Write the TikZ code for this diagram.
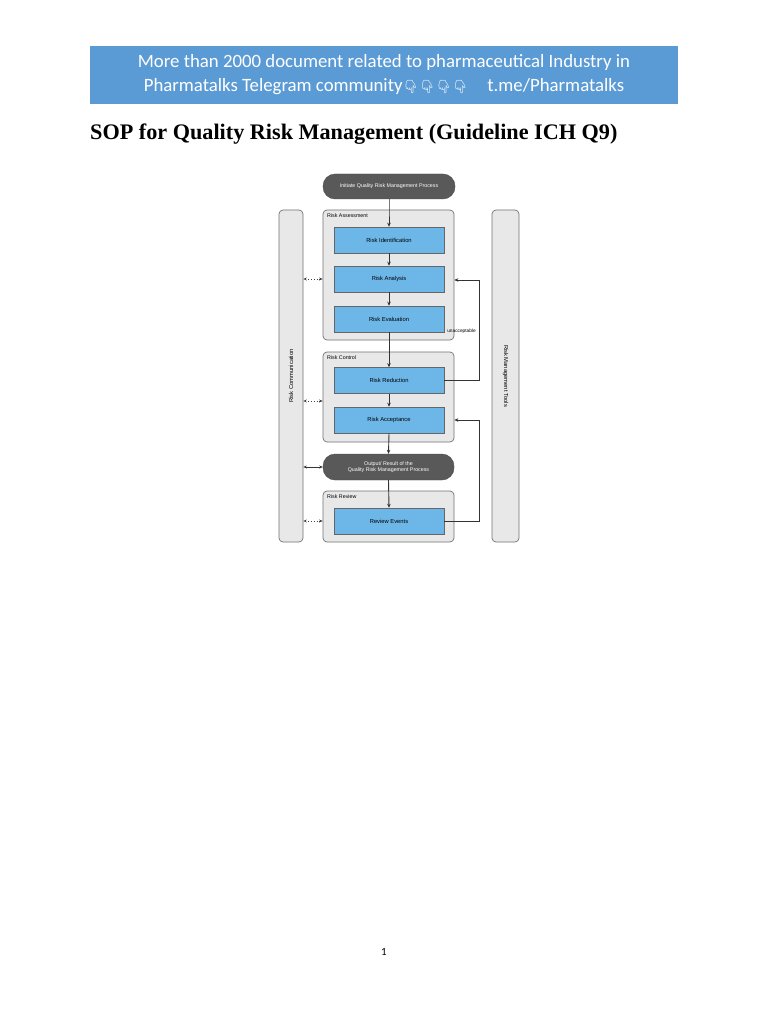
\documentclass[tikz,border=0pt]{standalone}
\usepackage{fontspec}
\setmainfont{Liberation Serif}
\newfontfamily\calfont{Carlito}
\newfontfamily\dsans{Liberation Sans}
\newfontfamily\emo{Noto Emoji}
\usetikzlibrary{arrows.meta}
\definecolor{banner}{HTML}{5B9BD5}
\definecolor{pill}{HTML}{595959}
\definecolor{gbox}{HTML}{E8E8E8}
\definecolor{bbox}{HTML}{6DB6E8}
\begin{document}
\begin{tikzpicture}[x=1pt,y=-1pt,
  every node/.style={inner sep=0pt},
  pillst/.style={draw=black!70,fill=pill,rounded corners=12pt,text=white,font=\dsans\fontsize{5.3}{6.5}\selectfont,align=center},
  grp/.style={draw=black!55,fill=gbox,rounded corners=4pt,line width=0.7pt},
  blue/.style={draw=black!60,fill=bbox,font=\dsans\fontsize{5.8}{6}\selectfont,line width=0.5pt},
  lab/.style={font=\dsans\fontsize{5.3}{6}\selectfont,anchor=north west},
  arr/.style={-{Stealth[length=4pt,width=3.5pt]},black!80,line width=0.9pt},
  dots/.style={{Stealth[length=3.5pt,width=3pt]}-{Stealth[length=3.5pt,width=3pt]},black!75,dotted,line width=0.8pt}]
\useasboundingbox (0,0) rectangle (768,1024);
\fill[white] (0,0) rectangle (768,1024);
% banner
\node[fill=banner,minimum width=588pt,minimum height=58pt,text=white,align=center,font=\calfont\fontsize{18.8}{24}\selectfont] (ban) at (384,75)
 {More than 2000 document related to pharmaceutical Industry in\\ Pharmatalks Telegram community{\emo\fontsize{13}{13}\selectfont 👇👇👇👇}\quad t.me/Pharmatalks};
\node[anchor=west,font=\bfseries\fontsize{22.2}{26}\selectfont] (title) at (90,134) {SOP for Quality Risk Management (Guideline ICH Q9)};
% bars
\node[grp,minimum width=24pt,minimum height=332pt] (lbar) at (291,376) {};
\node[rotate=90,font=\dsans\fontsize{5.8}{6}\selectfont] (lbt) at (291,376) {Risk Communication};
\node[grp,minimum width=27pt,minimum height=332pt] (rbar) at (505.5,376) {};
\node[rotate=-90,font=\dsans\fontsize{5.8}{6}\selectfont] (rbt) at (505.5,376) {Risk Management Tools};
% groups
\node[grp,minimum width=131pt,minimum height=130pt] (ra) at (388.5,275) {};
\node[lab] (ral) at (327,213) {Risk Assessment};
\node[grp,minimum width=131pt,minimum height=90pt] (rc) at (388.5,397) {};
\node[lab] (rcl) at (327,355) {Risk Control};
\node[grp,minimum width=131pt,minimum height=51pt] (rr) at (388.5,516.5) {};
\node[lab] (rrl) at (327,494) {Risk Review};
% pills
\node[pillst,minimum width=132pt,minimum height=25pt] (init) at (389,186.5) {Initiate Quality Risk Management Process};
\node[pillst,minimum width=131pt,minimum height=26pt] (out) at (388.5,467) {Output/ Result of the\\Quality Risk Management Process};
% blue boxes
\foreach \n/\y/\t in {rid/240/Risk Identification, ran/279/Risk Analysis, rev/319/Risk Evaluation, rred/380.5/Risk Reduction, racc/420/Risk Acceptance, revv/521/Review Events}
  \node[blue,minimum width=110pt,minimum height=26pt] (\n) at (389,\y) {\t};
% vertical arrows
\draw[arr] (init.south) -- (init.south |- ra.north) -- (rid.north);
\draw[arr] (rid) -- (ran);
\draw[arr] (ran) -- (rev);
\draw[arr] (rev.south) -- (rred.north);
\draw[arr] (rred) -- (racc);
\draw[arr] (racc.south) -- (out.north);
\draw[arr] (out.south) -- (revv.north);
% loops
\coordinate (l1) at (479,380.5); \coordinate (l2) at (479,280);
\draw[arr,line width=0.6pt] (rred.east) -- (l1) -- (l2) -- (ra.east |- l2);
\node[anchor=east,font=\dsans\fontsize{4.8}{5}\selectfont] (unac) at (476,331) {unacceptable};
\coordinate (l3) at (479,521); \coordinate (l4) at (479,420);
\draw[arr,line width=0.6pt] (revv.east) -- (l3) -- (l4) -- (rc.east |- l4);
% left connectors
\draw[dots] (lbar.east |- ran) -- (ra.west |- ran);
\draw[dots] (lbar.east |- 0,401) -- (rc.west |- 0,401);
\draw[dots] (lbar.east |- revv) -- (rr.west |- revv);
\draw[{Stealth[length=3.5pt,width=3pt]}-{Stealth[length=3.5pt,width=3pt]},black!80,line width=0.8pt] (lbar.east |- out) -- (out.west);
\node[font=\calfont\fontsize{11}{12}\selectfont] (pg) at (384,952) {1};
\end{tikzpicture}
\end{document}
